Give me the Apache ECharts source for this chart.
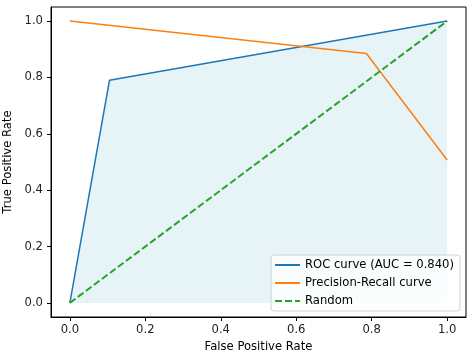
<!DOCTYPE html>
<html><head><meta charset="utf-8">
<script src="https://cdn.jsdelivr.net/npm/echarts@6/dist/echarts.min.js"></script>
<style>html,body{margin:0;padding:0;background:#fff}#c{width:474px;height:361px}</style>
</head><body><div id="c"></div>
<script>
const rocFpr = [0, 0.105, 1];
const rocTpr = [0, 0.79, 1];
const prX = [0, 0.786, 1];
const prY = [1.0, 0.885, 0.507];
const randX = [0, 1];
const randY = [0, 1];
const tickValues = [0, 0.2, 0.4, 0.6, 0.8, 1.0];
const seriesNames = ['ROC curve (AUC = 0.840)', 'Precision-Recall curve', 'Random'];

const zip = (a, b) => a.map((v, i) => [v, b[i]]);
const font = 'DejaVu Sans';
const fs = 11.6;
const axisCommon = (name, gap, margin) => ({
  type: 'value', min: -0.05, max: 1.05,
  name: name, nameLocation: 'middle', nameGap: gap,
  nameTextStyle: { fontFamily: font, fontSize: fs, color: '#000' },
  axisLine: { show: true, onZero: false, lineStyle: { color: '#000', width: 1 } },
  axisTick: { show: true, length: 4, customValues: tickValues, lineStyle: { color: '#000' } },
  axisLabel: { customValues: tickValues, fontFamily: font, fontSize: fs, color: '#222', margin: margin,
    formatter: v => v.toFixed(1) },
  splitLine: { show: false }
});
const chart = echarts.init(document.getElementById('c'));
chart.setOption({
  animation: false,
  grid: { left: 51, right: 8, top: 7, bottom: 44, show: true, borderColor: '#000', borderWidth: 1,
    containLabel: false, outerBoundsMode: 'none' },
  xAxis: axisCommon('False Positive Rate', 24, 7),
  yAxis: axisCommon('True Positive Rate', 29, 8),
  legend: {
    orient: 'vertical', right: 14, bottom: 50,
    itemWidth: 25, itemHeight: 12, itemGap: 6,
    padding: [4, 6, 4, 3],
    itemStyle: { opacity: 0 },
    backgroundColor: 'rgba(255,255,255,0.8)', borderColor: '#d0d0d0', borderWidth: 1, borderRadius: 3,
    textStyle: { fontFamily: font, fontSize: fs, color: '#000', lineHeight: 12 },
    data: seriesNames
  },
  series: [
    { name: seriesNames[0], type: 'line', data: zip(rocFpr, rocTpr), symbol: 'none',
      lineStyle: { color: '#1f77b4', width: 1.5 }, itemStyle: { color: '#1f77b4' },
      areaStyle: { color: 'rgb(230,243,247)', opacity: 1, origin: 0 } },
    { name: seriesNames[1], type: 'line', data: zip(prX, prY), symbol: 'none',
      lineStyle: { color: '#ff7f0e', width: 1.5 }, itemStyle: { color: '#ff7f0e' } },
    { name: seriesNames[2], type: 'line', data: zip(randX, randY), symbol: 'none',
      lineStyle: { color: '#2ca02c', width: 2, type: [7, 3] }, itemStyle: { color: '#2ca02c' } }
  ]
});
</script></body></html>
